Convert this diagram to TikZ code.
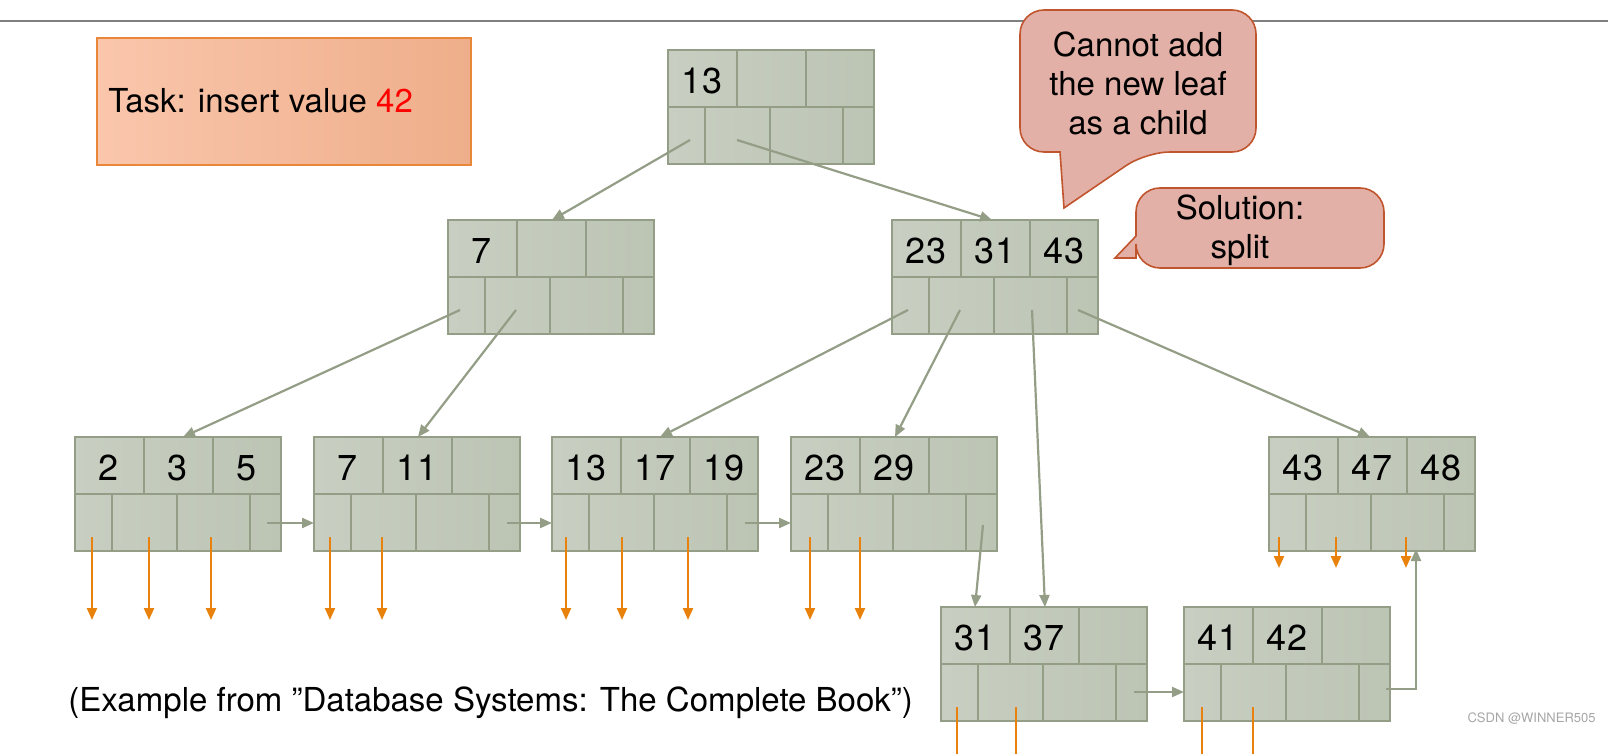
\documentclass[tikz,border=0pt]{standalone}
\usepackage{fontspec}
\setmainfont{TeX Gyre Heros}
\usetikzlibrary{arrows.meta,calc}
\definecolor{cellfill}{HTML}{C8CFC2}
\definecolor{cellfillb}{HTML}{BCC4B4}
\definecolor{cellline}{HTML}{949E86}
\definecolor{ptr}{HTML}{E8820C}
\definecolor{callfill}{HTML}{E2B0A6}
\definecolor{callline}{HTML}{C0552E}
\definecolor{taskl}{HTML}{FAC6AC}
\definecolor{taskr}{HTML}{EEAE8A}
\definecolor{taskline}{HTML}{E8873A}
\tikzset{
  block/.style={draw=cellline, line width=1.2pt, left color=cellfill, right color=cellfillb,
    minimum width=103pt, minimum height=57pt, inner sep=0pt, outer sep=0pt, anchor=north west},
  div/.style={draw=cellline, line width=1pt},
  key/.style={font=\fontsize{16.5}{19}\selectfont, inner sep=0pt},
  cellkey/.style={font=\fontsize{18}{20}\selectfont, inner sep=0pt},
  link/.style={draw=cellline, line width=1.1pt, -{Triangle[length=6pt,width=5pt]}},
  leafptr/.style={draw=ptr, line width=1.1pt, -{Triangle[length=6pt,width=5pt]}},
  callout/.style={draw=callline, line width=0.8pt, fill=callfill, rounded corners=12pt},
  ctext/.style={font=\fontsize{16.5}{19.5}\selectfont, align=center, inner sep=0pt},
}
\newcommand{\bnode}[6]{%
  \node[block] (#1) at (#2,#3) {};
  \draw[div] ($(#1.north west)+(0,57)$) -- ($(#1.north east)+(0,57)$);
  \draw[div] ($(#1.north west)+(69,0)$) -- ($(#1.north west)+(69,57)$);
  \draw[div] ($(#1.north west)+(138,0)$) -- ($(#1.north west)+(138,57)$);
  \draw[div] ($(#1.north west)+(37,57)$) -- ($(#1.south west)+(37,0)$);
  \draw[div] ($(#1.north west)+(102,57)$) -- ($(#1.south west)+(102,0)$);
  \draw[div] ($(#1.north west)+(175,57)$) -- ($(#1.south west)+(175,0)$);
  \node[cellkey] (#1k1) at ($(#1.north west)+(34,31)$) {#4};
  \node[cellkey] (#1k2) at ($(#1.north west)+(103,31)$) {#5};
  \node[cellkey] (#1k3) at ($(#1.north west)+(172,31)$) {#6};
}
\begin{document}
\begin{tikzpicture}[x=0.5pt,y=-0.5pt]
\useasboundingbox (0,0) rectangle (1608,754);
\draw[gray, line width=0.8pt] (0,21) -- (1608,21);

% task box
\node[draw=taskline, line width=0.8pt, left color=taskl, right color=taskr,
  minimum width=187pt, minimum height=63.5pt, anchor=north west, inner sep=0pt] (task) at (96,37) {};
\node[key, anchor=west] (tasktext) at (108,101) {Task: insert value {\color{red}42}};

% callouts
\draw[callout] (1020,10) -- (1256,10) -- (1256,152) -- (1146,152)
  [sharp corners] -- (1064,208) -- (1060,152) [rounded corners=12pt] -- (1020,152) -- cycle;
\node[ctext] (c1) at (1138,83) {Cannot add\\the new leaf\\as a child};
\draw[callout] (1136,188) -- (1384,188) -- (1384,268) -- (1136,268)
  [sharp corners] -- (1136,258) -- (1115,258) -- (1136,236) [rounded corners=12pt] -- cycle;
\node[ctext] (c2) at (1240,230) {Solution:\\split};

% tree nodes
\bnode{root}{668}{50}{13}{}{}
\bnode{na}{448}{220}{7}{}{}
\bnode{nb}{892}{220}{23}{31}{43}
\bnode{la}{75}{437}{2}{3}{5}
\bnode{lb}{314}{437}{7}{11}{}
\bnode{lc}{552}{437}{13}{17}{19}
\bnode{ld}{791}{437}{23}{29}{}
\bnode{le}{1269}{437}{43}{47}{48}
\bnode{lf}{941}{607}{31}{37}{}
\bnode{lg}{1184}{607}{41}{42}{}

% child pointers
\draw[link] ($(root.north west)+(22,90)$) -- ($(na.north west)+(104,0)$);
\draw[link] ($(root.north west)+(69,90)$) -- ($(nb.north west)+(100,0)$);
\draw[link] ($(na.north west)+(12,90)$) -- ($(la.north west)+(108,0)$);
\draw[link] ($(na.north west)+(68,90)$) -- ($(lb.north west)+(104,0)$);
\draw[link] ($(nb.north west)+(16,90)$) -- ($(lc.north west)+(108,0)$);
\draw[link] ($(nb.north west)+(68,90)$) -- ($(ld.north west)+(104,0)$);
\draw[link] ($(nb.north west)+(140,90)$) -- ($(lf.north west)+(104,0)$);
\draw[link] ($(nb.north west)+(186,90)$) -- ($(le.north west)+(101,0)$);

% leaf chain
\draw[link] ($(la.north west)+(192,86)$) -- ($(lb.north west)+(0,86)$);
\draw[link] ($(lb.north west)+(193,86)$) -- ($(lc.north west)+(0,86)$);
\draw[link] ($(lc.north west)+(193,86)$) -- ($(ld.north west)+(0,86)$);
\draw[link] ($(ld.north west)+(192,88)$) -- ($(lf.north west)+(34,0)$);
\draw[link] ($(lf.north west)+(193,85)$) -- ($(lg.north west)+(0,85)$);
\coordinate (bend) at ($(lg.north west)+(232,82)$);
\draw[link] ($(lg.north west)+(202,82)$) -- (bend) -- ($(le.north west)+(147,112)$);

% record pointers
\foreach \n/\xs in {la/{17,74,136}, lb/{16,68}, lc/{14,70,136}, ld/{19,69}}{
  \foreach \dx in \xs {
    \draw[leafptr] ($(\n.north west)+(\dx,100)$) -- ($(\n.north west)+(\dx,183)$);
  }
}
\foreach \dx in {10,67,137}{
  \draw[leafptr] ($(le.north west)+(\dx,100)$) -- ($(le.north west)+(\dx,131)$);
}
\foreach \n/\xs in {lf/{16,75}, lg/{18,69}}{
  \foreach \dx in \xs {
    \draw[draw=ptr, line width=1.1pt] ($(\n.north west)+(\dx,100)$) -- ($(\n.north west)+(\dx,147)$);
  }
}

\node[key, anchor=west] (cap) at (68,703) {(Example from ”Database Systems: The Complete Book”)};
\node[font=\fontsize{6.5}{8}\selectfont, text=gray!70, anchor=east, inner sep=0pt] (wm) at (1596,719) {CSDN @WINNER505};
\end{tikzpicture}
\end{document}
